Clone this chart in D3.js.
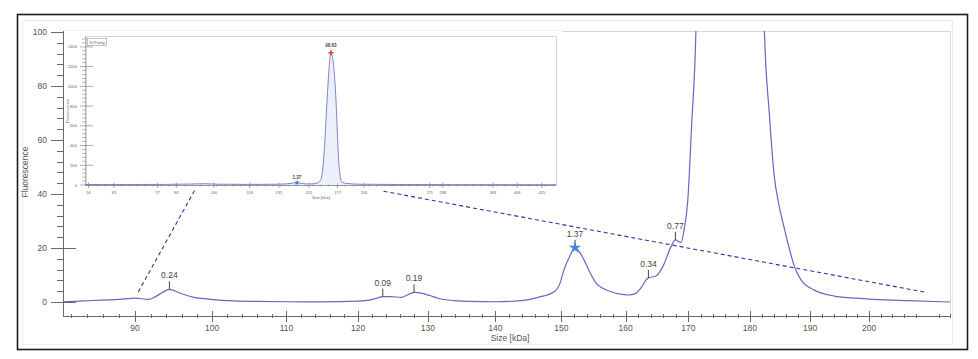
<!DOCTYPE html>
<html>
<head>
<meta charset="utf-8">
<script src="https://cdn.jsdelivr.net/npm/d3@7"></script>
<style>
  html, body { margin: 0; padding: 0; background: #fff; }
  svg { display: block; font-family: "Liberation Sans", Arial, sans-serif; }
</style>
</head>
<body>
<svg id="chart" width="978" height="359"></svg>
<script>
// ---------------- DATA ----------------
// Main electropherogram (zoomed view): size [kDa] and fluorescence
const mainSize = [81, 83, 85.7, 88, 90, 91.7, 92.5, 93.5, 94.4, 95.5, 96.5, 97.6, 99.5, 102.9, 106, 110, 115,
  120, 121.8, 122.6, 123.5, 124.5, 126.2, 127, 128, 129.1, 130.3, 131.5, 133.9, 136, 140, 143.9, 146.4, 148.9,
  149.8, 150.4, 151.2, 152.1, 152.8, 153.5, 154.4, 155.4, 156.5, 157.7, 159, 160.4, 161.6, 162.5, 163.2, 163.6,
  164.8, 165.9, 167.2, 167.9, 168.8, 169.3, 169.9, 170.5, 171.2, 172, 173, 174, 175, 176, 177, 178, 179, 180,
  181, 182, 182.4, 183.2, 184, 184.8, 185.5, 186.5, 187.4, 188.5, 190.7, 194.1, 197, 200.8, 206.7, 214];
const mainFluor = [0.1, 0.3, 0.7, 1.0, 1.4, 1.0, 1.8, 3.5, 4.7, 3.6, 2.6, 1.7, 1.1, 0.4, 0.2, 0.1, 0.05,
  0.3, 0.8, 1.4, 2.0, 2.0, 1.7, 2.6, 3.6, 3.3, 2.4, 1.4, 0.5, 0.2, 0.1, 0.5, 1.7, 3.8,
  7, 11.9, 16.5, 20.1, 18.5, 15.6, 11, 6.9, 5, 3.8, 3, 2.6, 3.2, 5.5, 8.1, 8.9,
  9.6, 13.1, 20.5, 23.0, 22.0, 26.7, 37.8, 65, 100, 210, 420, 700, 900, 1000, 1020, 980, 850, 620,
  400, 190, 100, 70, 47, 36, 29, 20, 13, 8.1, 4.4, 2.2, 1.5, 1.0, 0.5, 0];

// Peak annotations (main view)
const peakSize  = [94.4, 123.5, 128.0, 152.1, 163.6, 167.9];
const peakValue = [4.7, 2.0, 3.6, 20.1, 8.9, 23.0];
const peakLabel = ["0.24", "0.09", "0.19", "1.37", "0.34", "0.77"];

// Axis ticks (main)
const mainXTicks = [90, 100, 110, 120, 130, 140, 150, 160, 170, 180, 190, 200];
const mainYTicks = [0, 20, 40, 60, 80, 100];

// Inset (full electropherogram)
const insetSize  = [55.1, 67.8, 80, 90, 95.9, 102, 118, 130, 140, 146.7, 151, 155.8, 161.6, 163.5, 164.7,
  166.5, 168.6, 171.7, 175.7, 177.4, 179, 180.7, 185, 196.3, 236, 300, 485.6];
const insetFluor = [5, 5, 6, 10, 13, 8, 6, 7, 12, 23, 14, 10, 22, 50, 101,
  355, 862, 1340, 862, 355, 101, 30, 15, 8, 5, 4, 3];
const insetXTicks = [56, 63, 77, 84, 100, 118, 135, 155, 177, 200, 271, 288, 363, 406, 455];
const insetYTicks = [0, 200, 400, 600, 800, 1000, 1200, 1400];
const insetPeakSize  = [146.7, 171.7];
const insetPeakValue = [23, 1340];
const insetPeakLabel = ["1.37", "98.63"];

// Zoom connector lines: [main size, main value] -> [inset size, inset value]
const linkMain  = [[90.4, 3.7], [209.5, 3.7]];
const linkInset = [[92, -30], [217, -60]];

// ---------------- DRAW ----------------
const svg = d3.select("#chart");
const lineColor = "#6c63c3";
const axisColor = "#6d6868";
const textColor = "#555";

// faint outer frame and black border
svg.append("rect").attr("x", 22.5).attr("y", 20.5).attr("width", 930).attr("height", 324)
  .attr("fill", "none").attr("stroke", "#f0ecec");
svg.append("rect").attr("x", 17.5).attr("y", 14.5).attr("width", 950).attr("height", 335)
  .attr("fill", "none").attr("stroke", "#1c1c1c").attr("stroke-width", 1.6);

// main scales
const x = d3.scalePow().exponent(0.63).domain([81, 214]).range([63, 950]);
const y = d3.scaleLinear().domain([0, 100]).range([302, 32]);
const plotTop = 31, plotBottom = 316, plotLeft = 63, plotRight = 950;

// plot border (light)
svg.append("rect").attr("x", plotLeft + 0.5).attr("y", plotTop + 0.5)
  .attr("width", plotRight - plotLeft).attr("height", plotBottom - plotTop)
  .attr("fill", "none").attr("stroke", "#dcd5d3");

svg.append("clipPath").attr("id", "clipMain").append("rect")
  .attr("x", plotLeft).attr("y", plotTop).attr("width", plotRight - plotLeft).attr("height", plotBottom - plotTop);

// Y axis
const gy = svg.append("g");
gy.append("line").attr("x1", plotLeft + 0.5).attr("x2", plotLeft + 0.5).attr("y1", plotTop).attr("y2", plotBottom)
  .attr("stroke", axisColor);
d3.range(0, 101, 4).forEach(v => {
  if (v % 20 === 0) return;
  gy.append("line").attr("x1", 57).attr("x2", plotLeft).attr("y1", Math.round(y(v)) + 0.5).attr("y2", Math.round(y(v)) + 0.5)
    .attr("stroke", axisColor);
});
mainYTicks.forEach(v => {
  gy.append("line").attr("x1", 51).attr("x2", 76).attr("y1", Math.round(y(v)) + 0.5).attr("y2", Math.round(y(v)) + 0.5)
    .attr("stroke", axisColor);
  gy.append("text").attr("x", 47).attr("y", y(v) + 3).attr("text-anchor", "end")
    .attr("font-size", 8.5).attr("fill", textColor).text(v);
});
svg.append("text").attr("transform", "translate(28,172) rotate(-90)").attr("text-anchor", "middle")
  .attr("font-size", 8.5).attr("fill", textColor).text("Fluorescence");

// X axis
const gx = svg.append("g");
gx.append("line").attr("x1", plotLeft).attr("x2", plotRight).attr("y1", plotBottom + 0.5).attr("y2", plotBottom + 0.5)
  .attr("stroke", axisColor).attr("stroke-width", 1.2);
d3.range(82, 215, 2).forEach(v => {
  if (v % 10 === 0) return;
  gx.append("line").attr("x1", Math.round(x(v)) + 0.5).attr("x2", Math.round(x(v)) + 0.5)
    .attr("y1", plotBottom - 2).attr("y2", plotBottom + 2).attr("stroke", axisColor);
});
mainXTicks.forEach(v => {
  gx.append("line").attr("x1", Math.round(x(v)) + 0.5).attr("x2", Math.round(x(v)) + 0.5)
    .attr("y1", plotBottom - 5).attr("y2", plotBottom + 6).attr("stroke", axisColor);
  gx.append("text").attr("x", x(v)).attr("y", 331).attr("text-anchor", "middle")
    .attr("font-size", 8.5).attr("fill", textColor).text(v);
});
svg.append("text").attr("x", 510).attr("y", 341).attr("text-anchor", "middle")
  .attr("font-size", 8.5).attr("fill", textColor).text("Size [kDa]");

// main trace
const mainData = mainSize.map((s, i) => [s, mainFluor[i]]);
svg.append("path").datum(mainData).attr("clip-path", "url(#clipMain)")
  .attr("fill", "none").attr("stroke", lineColor).attr("stroke-width", 1.2)
  .attr("d", d3.line().x(d => x(d[0])).y(d => y(d[1])).curve(d3.curveMonotoneX));

// peak annotations
peakSize.forEach((s, i) => {
  const px = x(s), py = y(peakValue[i]);
  svg.append("line").attr("x1", px).attr("x2", px).attr("y1", py).attr("y2", py - 8)
    .attr("stroke", "#444").attr("stroke-width", 1);
  svg.append("text").attr("x", px).attr("y", py - 11).attr("text-anchor", "middle")
    .attr("font-size", 8.5).attr("fill", "#444").text(peakLabel[i]);
});
// selected peak marker (1.37)
svg.append("path").attr("d", d3.symbol().type(d3.symbolStar).size(45)())
  .attr("transform", `translate(${x(peakSize[3])},${y(peakValue[3])})`)
  .attr("fill", "#4d86d6");

// ---------------- INSET ----------------
const inL = 85, inR = 556, inT = 36, inB = 185;
const xi = d3.scaleLog().domain([55.1, 485.6]).range([inL, inR]);
const yi = d3.scaleLinear().domain([0, 1510]).range([inB, inT]);

// inset background
svg.append("rect").attr("x", 64).attr("y", 21).attr("width", 498).attr("height", 184)
  .attr("fill", "#fff");
svg.append("line").attr("x1", 64).attr("x2", 562).attr("y1", 30.5).attr("y2", 30.5).attr("stroke", "#f1eded");
svg.append("rect").attr("x", inL + 0.5).attr("y", inT + 0.5).attr("width", inR - inL).attr("height", inB - inT)
  .attr("fill", "none").attr("stroke", "#ddd6d3");

// inset y axis
d3.range(0, 1501, 40).forEach(v => {
  if (v % 200 === 0) return;
  svg.append("line").attr("x1", 82).attr("x2", inL + 1).attr("y1", yi(v)).attr("y2", yi(v))
    .attr("stroke", "#8a8585").attr("stroke-width", 0.6);
});
insetYTicks.forEach(v => {
  svg.append("line").attr("x1", 80).attr("x2", 93).attr("y1", yi(v)).attr("y2", yi(v))
    .attr("stroke", "#8a8585").attr("stroke-width", 0.7);
  svg.append("text").attr("x", 77).attr("y", yi(v) + 1.5).attr("text-anchor", "end")
    .attr("font-size", 4.2).attr("fill", "#666").text(v);
});
svg.append("line").attr("x1", inL + 1).attr("x2", inL + 1).attr("y1", inT).attr("y2", inB)
  .attr("stroke", "#8a8585").attr("stroke-width", 0.7);
svg.append("text").attr("transform", "translate(69,111) rotate(-90)").attr("text-anchor", "middle")
  .attr("font-size", 4).attr("fill", "#666").text("Fluorescence");

// inset x axis
svg.append("line").attr("x1", inL).attr("x2", inR).attr("y1", inB + 0.5).attr("y2", inB + 0.5)
  .attr("stroke", "#8a8585").attr("stroke-width", 0.8);
d3.range(inL + 4, inR, 8).forEach(px => {
  svg.append("line").attr("x1", px).attr("x2", px).attr("y1", inB - 1).attr("y2", inB + 1.5)
    .attr("stroke", "#8a8585").attr("stroke-width", 0.6);
});
insetXTicks.forEach(v => {
  svg.append("line").attr("x1", xi(v)).attr("x2", xi(v)).attr("y1", inB - 2.5).attr("y2", inB + 3)
    .attr("stroke", "#8a8585").attr("stroke-width", 0.7);
  svg.append("text").attr("x", xi(v)).attr("y", 193.5).attr("text-anchor", "middle")
    .attr("font-size", 4).attr("fill", "#666").text(v);
});
svg.append("text").attr("x", 321).attr("y", 199).attr("text-anchor", "middle")
  .attr("font-size", 4).attr("fill", "#666").text("Size [kDa]");

// "% Purity" box
svg.append("rect").attr("x", 87.5).attr("y", 38.5).attr("width", 19).attr("height", 7)
  .attr("fill", "#fff").attr("stroke", "#9a9494").attr("stroke-width", 0.6);
svg.append("text").attr("x", 97).attr("y", 43.5).attr("text-anchor", "middle")
  .attr("font-size", 4.2).attr("fill", "#555").text("% Purity");

// inset trace
const insetData = insetSize.map((s, i) => [s, insetFluor[i]]);
svg.append("path").datum(insetData)
  .attr("fill", "#dfe6f7").attr("fill-opacity", 0.6).attr("stroke", "none")
  .attr("d", d3.area().x(d => xi(d[0])).y0(yi(0)).y1(d => yi(d[1])).curve(d3.curveMonotoneX));
svg.append("path").datum(insetData)
  .attr("fill", "none").attr("stroke", "#7b72c9").attr("stroke-width", 0.9)
  .attr("d", d3.line().x(d => xi(d[0])).y(d => yi(d[1])).curve(d3.curveMonotoneX));

// inset peak labels + markers
insetPeakSize.forEach((s, i) => {
  const px = xi(s), py = yi(insetPeakValue[i]);
  svg.append("text").attr("x", px).attr("y", py - (i === 1 ? 6 : 4)).attr("text-anchor", "middle")
    .attr("font-size", 4.5).attr("font-weight", "bold").attr("fill", "#444").text(insetPeakLabel[i]);
  svg.append("path").attr("d", d3.symbol().type(i === 1 ? d3.symbolCross : d3.symbolStar).size(i === 1 ? 14 : 10)())
    .attr("transform", `translate(${px},${py})`)
    .attr("fill", i === 1 ? "#e0463a" : "#3c78d0");
});

// zoom connector dashed lines
linkMain.forEach((m, i) => {
  const a = linkInset[i];
  svg.append("line")
    .attr("x1", x(m[0])).attr("y1", y(m[1]))
    .attr("x2", xi(a[0])).attr("y2", yi(a[1]))
    .attr("stroke", "#3a2e9e").attr("stroke-width", 1.1).attr("stroke-dasharray", "4,3");
});
</script>
</body>
</html>
